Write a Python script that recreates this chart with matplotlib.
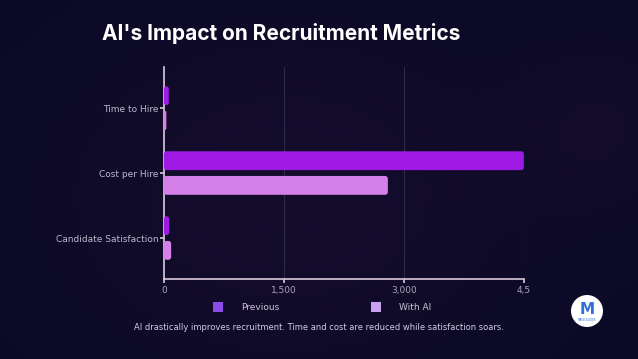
import numpy as np
import matplotlib.pyplot as plt
from matplotlib.patches import FancyBboxPatch, Ellipse

categories = ['Time to Hire', 'Cost per Hire', 'Candidate Satisfaction']
previous = [60, 4500, 65]
with_ai = [30, 2800, 90]
xticks = [0, 1500, 3000, 4500]
xtick_labels = ['0', '1,500', '3,000', '4,5']

title = "AI's Impact on Recruitment Metrics"
caption = "AI drastically improves recruitment. Time and cost are reduced while satisfaction soars."

fig = plt.figure(figsize=(6.38, 3.59), dpi=100)
fig.patch.set_facecolor('#0b0a26')

# background with a soft purple glow
bg = fig.add_axes([0, 0, 1, 1])
yy, xx = np.mgrid[0:1:200j, 0:1:360j]
glow = np.exp(-(((xx - 0.45) / 0.35) ** 2 + ((yy - 0.55) / 0.45) ** 2))
glow2 = np.exp(-(((xx - 0.95) / 0.15) ** 2 + ((yy - 0.35) / 0.25) ** 2))
base = np.array([11, 10, 38]) / 255
tint = np.array([24, 13, 46]) / 255
img = base + (tint - base) * (0.8 * glow + 0.5 * glow2)[..., None]
bg.imshow(img, extent=[0, 1, 0, 1], aspect='auto', origin='upper')
bg.axis('off')

ax = fig.add_axes([0.257, 0.223, 0.564, 0.59])
ax.set_facecolor('none')

y = np.arange(len(categories))
h = 0.29
off = 0.19
b1 = ax.barh(y - off, previous, height=h, color='#a01ae6')
b2 = ax.barh(y + off, with_ai, height=h, color='#d57fe8')

# rounded corners
asp = (1 / 65) / 12.5
for bars in (b1, b2):
    for p in bars:
        x0, y0 = p.get_x(), p.get_y()
        w, hh = p.get_width(), p.get_height()
        r = min(35, w / 2)
        fb = FancyBboxPatch((x0, y0), w, hh,
                            boxstyle=f"round,pad=0,rounding_size={r}",
                            mutation_aspect=asp,
                            fc=p.get_facecolor(), ec='none', zorder=3)
        ax.add_patch(fb)
        p.set_visible(False)

ax.set_xlim(0, 4500)
ax.set_ylim(2.63, -0.63)
ax.set_yticks(y)
ax.set_yticklabels(categories)
ax.set_xticks(xticks)
ax.set_xticklabels(xtick_labels)

ax.grid(axis='x', color='#2c2a48', linewidth=0.8, zorder=0)
ax.set_axisbelow(True)
for s in ['top', 'right']:
    ax.spines[s].set_visible(False)
for s in ['left', 'bottom']:
    ax.spines[s].set_color('#d9c9d9')
    ax.spines[s].set_linewidth(1.2)
ax.tick_params(axis='y', colors='#d9c9d9', labelcolor='#bdb8cc',
               labelsize=6.5, length=3, width=1.2, pad=1)
ax.tick_params(axis='x', colors='#d9c9d9', labelcolor='#a9a5ba',
               labelsize=6.5, length=3, width=1.2, pad=2)

# legend
fig.patches.append(plt.Rectangle((213 / 638, 1 - 312 / 359), 10 / 638, 10 / 359,
                                 transform=fig.transFigure, fc='#8a4be6', ec='none'))
fig.text(241 / 638, 1 - 307 / 359, 'Previous', color='#c9c4d8', fontsize=6.5, va='center')
fig.patches.append(plt.Rectangle((371 / 638, 1 - 312 / 359), 10 / 638, 10 / 359,
                                 transform=fig.transFigure, fc='#c8a2f0', ec='none'))
fig.text(399 / 638, 1 - 307 / 359, 'With AI', color='#c9c4d8', fontsize=6.5, va='center')

fig.text(102 / 638, 1 - 34 / 359, title, color='white', fontsize=15,
         fontweight='bold', family='Inter', va='center')
fig.text(319 / 638, 1 - 327 / 359, caption, color='#d0cce0', fontsize=6,
         ha='center', va='center')

# logo
logo = Ellipse((587 / 638, 1 - 311 / 359), 32 / 638, 32 / 359,
               transform=fig.transFigure, fc='white', ec='none')
fig.patches.append(logo)
fig.text(587 / 638, 1 - 309 / 359, 'M', color='#2f6fd6', fontsize=11,
         fontweight='bold', ha='center', va='center')
fig.text(587 / 638, 1 - 320 / 359, 'MAGICSLIDES', color='#2f6fd6', fontsize=2,
         ha='center', va='center')

fig.savefig('out.png', dpi=100, facecolor=fig.get_facecolor())
